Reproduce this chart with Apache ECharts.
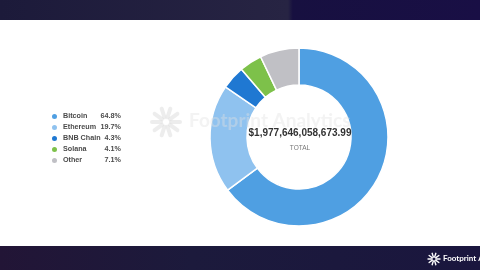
<!DOCTYPE html>
<html>
<head>
<meta charset="utf-8">
<script src="https://cdn.jsdelivr.net/npm/echarts@6/dist/echarts.min.js"></script>
<style>
  html, body { margin: 0; padding: 0; background: #fff; }
  #echart { width: 480px; height: 270px; }
</style>
</head>
<body>
<div id="echart"></div>
<script>
// 数据
var chains = ['Bitcoin', 'Ethereum', 'BNB Chain', 'Solana', 'Other'];
var shares = [64.8, 19.7, 4.3, 4.1, 7.1];
var colors = ['#4f9fe2', '#8fc2ef', '#1f78d2', '#7dc14a', '#c0c0c5'];
var totalText = '$1,977,646,058,673.99';
var totalLabel = 'TOTAL';

var myChart = echarts.init(document.getElementById('echart'));

var pieData = chains.map(function (name, i) {
    return { name: name, value: shares[i], itemStyle: { color: colors[i] } };
});

// 水印的小太阳图标
function sunRays(cx, cy, r1, r2, color, w) {
    var out = [];
    for (var k = 0; k < 10; k++) {
        var a = k * Math.PI / 5;
        out.push({
            type: 'line',
            shape: {
                x1: cx + Math.cos(a) * r1, y1: cy + Math.sin(a) * r1,
                x2: cx + Math.cos(a) * r2, y2: cy + Math.sin(a) * r2
            },
            style: { stroke: color, lineWidth: w, lineCap: 'round' },
            z: 1
        });
    }
    return out;
}

var legendFont = { fontSize: 7.2, fontWeight: 'bold', color: '#4a4a4a', fontFamily: '"Liberation Sans"', lineHeight: 9 };

var option = {
    backgroundColor: '#fff',
    animation: false,
    legend: {
        orient: 'vertical',
        left: 45,
        top: 107,
        itemWidth: 7,
        itemHeight: 7,
        itemGap: 2,
        icon: 'circle',
        data: chains,
        formatter: function (name) {
            var i = chains.indexOf(name);
            return '{n|' + name + '}{p|' + shares[i].toFixed(1) + '%}';
        },
        textStyle: {
            rich: {
                n: Object.assign({ width: 39 }, legendFont),
                p: Object.assign({ width: 19, align: 'right' }, legendFont)
            }
        }
    },
    graphic: [
        // 顶部和底部的深色条
        { type: 'rect', shape: { x: 0, y: 0, width: 480, height: 20 },
          style: { fill: new echarts.graphic.LinearGradient(0, 0, 1, 0, [
              { offset: 0, color: '#1c1a3a' }, { offset: 0.6, color: '#272443' }, { offset: 0.61, color: '#171040' }, { offset: 1, color: '#190f45' }]) } },
        { type: 'rect', shape: { x: 0, y: 246, width: 480, height: 24 },
          style: { fill: new echarts.graphic.LinearGradient(0, 0, 1, 0, [
              { offset: 0, color: '#221536' }, { offset: 0.4, color: '#1c1a3c' }, { offset: 1, color: '#1a163e' }]) } },
        { type: 'group', children: sunRays(434, 259, 2, 6, '#ffffff', 1.4) },
        { type: 'text', left: 443, top: 254,
          style: { text: 'Footprint Analytics', fill: '#fff', font: 'bold 8px Lato' } },
        // 水印
        { type: 'group', children: sunRays(166, 122, 5, 14, 'rgba(220,220,220,0.5)', 4) },
        { type: 'text', left: 189, top: 111, z: 5,
          style: { text: 'Footprint Analytics', fill: 'rgba(225,225,225,0.4)', font: 'bold 19px Lato' } },
        // 中心文字
        { type: 'text', x: 300, y: 133, z: 10,
          style: { text: totalText, fill: '#333', font: 'bold 10px "Liberation Sans"', align: 'center', verticalAlign: 'middle' } },
        { type: 'text', x: 300, y: 148, z: 10,
          style: { text: totalLabel, fill: '#777', font: '6.5px "Liberation Sans"', align: 'center', verticalAlign: 'middle' } }
    ],
    series: [{
        name: 'Chains',
        type: 'pie',
        center: [299, 137],
        radius: [52, 89],
        startAngle: 90,
        clockwise: true,
        label: { show: false },
        labelLine: { show: false },
        itemStyle: { borderColor: '#fff', borderWidth: 1.5 },
        data: pieData
    }]
};

myChart.setOption(option);
</script>
</body>
</html>
